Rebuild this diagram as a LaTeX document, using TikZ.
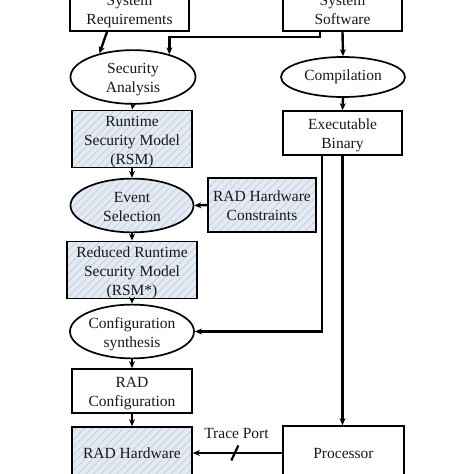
\documentclass[tikz,border=0pt]{standalone}
\usepackage{fontspec}
\setmainfont{Liberation Serif}
\usetikzlibrary{shapes.geometric,arrows.meta,patterns.meta,calc}
\definecolor{hfill}{HTML}{E3EAF4}
\definecolor{hline}{HTML}{C3CDDA}
\newcommand\mltext[1]{\raisebox{-2.5pt}[\height][\depth]{\begin{tabular}{@{}c@{}}#1\end{tabular}}}
\begin{document}
\begin{tikzpicture}[x=1pt,y=-1pt,
  every node/.style={font=\fontsize{15.5}{19}\selectfont, align=center, inner sep=0pt, text=black!90},
  box/.style={draw, line width=1.7pt, rectangle},
  oval/.style={draw, line width=1.7pt, ellipse},
  hatched/.style={preaction={fill=hfill}, preaction={pattern={Lines[angle=45,distance=5.5pt,line width=0.7pt]}, pattern color=hline}},
  arr/.style={line width=2.4pt, -{Stealth[length=7pt,width=6pt]}},
  ln/.style={line width=2.2pt}]
\useasboundingbox (0,0) rectangle (474,474);
\fill[white] (0,0) rectangle (474,474);
\clip (0,0) rectangle (474,474);
% nodes
\node[box, minimum width=119pt, minimum height=45pt] (req) at (129.5,8.5) {\mltext{System\\Requirements}};
\node[box, minimum width=119pt, minimum height=45pt] (sw) at (342.5,8.5) {\mltext{System\\Software}};
\node[oval, minimum width=125pt, minimum height=40pt] (sa) at (133,77) {\mltext{Security\\Analysis}};
\node[oval, minimum width=124pt, minimum height=40pt] (comp) at (343,77) {Compilation};
\node[box, hatched, minimum width=120pt, minimum height=54pt] (rsm) at (132,139) {\mltext{Runtime\\Security Model\\(RSM)}};
\node[box, minimum width=119pt, minimum height=44pt] (eb) at (342.5,133) {\mltext{Executable\\Binary}};
\node[oval, hatched, minimum width=123pt, minimum height=47pt] (es) at (132,205.5) {\mltext{Event\\Selection}};
\node[box, hatched, minimum width=108pt, minimum height=54pt] (radc) at (262,205) {\mltext{RAD Hardware\\Constraints}};
\node[box, hatched, minimum width=130pt, minimum height=54pt] (rrsm) at (132,270) {\mltext{Reduced Runtime\\Security Model\\(RSM*)}};
\node[oval, minimum width=124pt, minimum height=47pt] (cs) at (132,331.5) {\mltext{Configuration\\synthesis}};
\node[box, minimum width=120pt, minimum height=44pt] (rconf) at (132,391) {\mltext{RAD\\Configuration}};
\node[box, hatched, minimum width=120pt, minimum height=52pt] (rhw) at (132,453) {RAD Hardware};
\node[box, minimum width=121pt, minimum height=54pt] (proc) at (343.5,453) {Processor};
\node (tplabel) at (236.5,433) {Trace Port};
% connectors
\draw[arr] ([xshift=-22.5pt]req.south) -- (sa.145.6);
\draw[arr] ([xshift=-22.5pt]sw.south) |- ($(sa.32)+(0,-17)$) -- (sa.32);
\draw[arr] (sw.south) -- (comp.north);
\draw[arr] (sa.south) -- (rsm.north);
\draw[arr] (comp.south) -- (eb.north);
\draw[arr] (rsm.south) -- (es.north);
\draw[arr] (radc.west) -- (es.east);
\draw[arr] (es.south) -- (rrsm.north);
\draw[arr] (rrsm.south) -- (cs.north);
\draw[arr] ([xshift=-20.5pt]eb.south) |- (cs.east);
\draw[arr] (eb.south) -- (eb.south |- proc.north);
\draw[arr] (cs.south) -- (rconf.north);
\draw[arr] (rconf.south) -- (rhw.north);
\draw[arr] (proc.west) -- (rhw.east) coordinate[pos=0.53] (tp);
\draw[ln] ($(tp)+(-3.5,7.5)$) -- ($(tp)+(3.5,-7.5)$);
\end{tikzpicture}
\end{document}
